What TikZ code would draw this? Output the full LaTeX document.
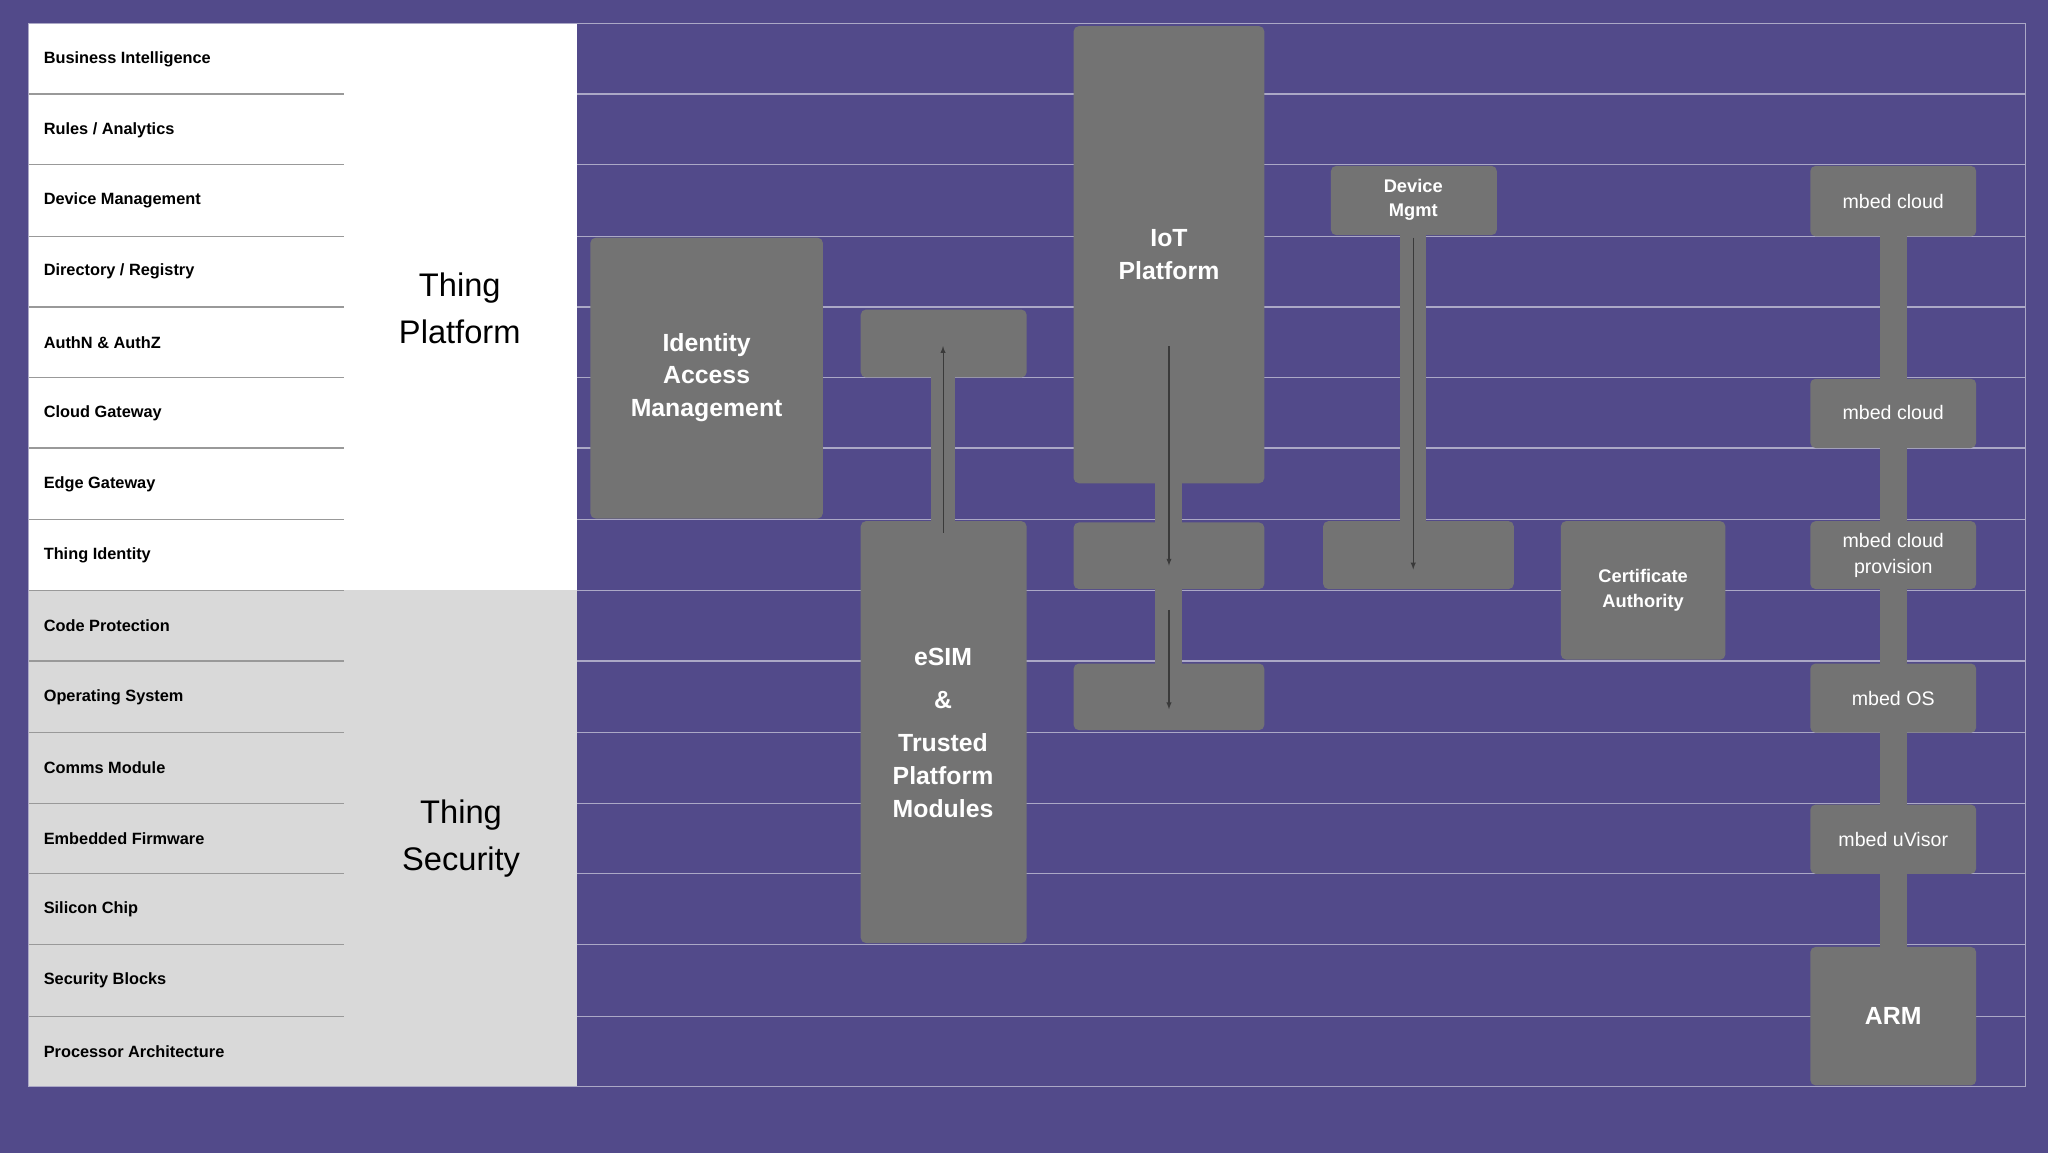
\documentclass[tikz,border=0pt]{standalone}
\usepackage{fontspec}
\setmainfont{Liberation Sans}
\begin{document}
\begin{tikzpicture}[x=1pt,y=-1pt,
  box/.style={fill=boxgray,rounded corners=4pt,draw=none},
  bar/.style={fill=boxgray,draw=none},
  lab/.style={anchor=west,font=\fontsize{12.5}{14}\selectfont\bfseries,text=black},
  bt/.style={text=white,align=center,font=\fontsize{19}{25}\selectfont\bfseries},
  st/.style={text=white,align=center,font=\fontsize{14}{19}\selectfont\bfseries},
  mt/.style={text=white,align=center,font=\fontsize{15}{20}\selectfont},
  arr/.style={draw=arrowgray,line width=0.8pt,-latex}]
\definecolor{bgp}{HTML}{524A8A}
\definecolor{boxgray}{HTML}{737373}
\definecolor{arrowgray}{HTML}{3A3A3A}
\definecolor{rowline}{HTML}{ABA8C6}
\definecolor{lgray}{HTML}{D9D9D9}
\fill[bgp] (0,0) rectangle (1568,883);
\useasboundingbox (0,0) rectangle (1568,883);
% left panels
\fill[white] (22,18) rectangle (442,452);
\fill[lgray] (22,452) rectangle (442,832);
% row lines
\foreach \y in {72,126,181,235,289,343,398,452,506,561,615,669,723,778}{
  \draw[rowline,line width=1pt] (442,\y) -- (1551,\y);
  \draw[gray!80,line width=1pt] (22,\y) -- (263,\y);}
\draw[rowline,line width=1pt] (22,18) rectangle (1551,832);
% labels
\foreach \t [count=\i] in {Business Intelligence,Rules / Analytics,Device Management,Directory / Registry,AuthN \& AuthZ,Cloud Gateway,Edge Gateway,Thing Identity,Code Protection,Operating System,Comms Module,Embedded Firmware,Silicon Chip,Security Blocks,Processor Architecture}
  \node[lab] (l\i) at (30,{18+54.27*(\i-0.5)}) {\t};
\node[align=center,font=\fontsize{25}{36}\selectfont] (tp) at (352,236) {Thing\\Platform};
\node[align=center,font=\fontsize{25}{36}\selectfont] (ts) at (353,642) {Thing\\Security};
% connector bars
\fill[bar] (713,285) rectangle (731,403);
\fill[bar] (884,365) rectangle (905,405);
\fill[bar] (884,446) rectangle (905,512);
\fill[bar] (1072,176) rectangle (1092,403);
\fill[bar] (1439,176) rectangle (1460,730);
% boxes
\fill[box] (452,182) rectangle (630,397); \node[bt] (iam) at (541,289) {Identity\\Access\\Management};
\fill[box] (659,237) rectangle (786,289); \coordinate (esimtop) at (722,265);
\fill[box] (659,399) rectangle (786,722); \node[bt] (esim) at (722,561) {eSIM\\[8pt]\&\\[8pt]Trusted\\Platform\\Modules};
\coordinate (esimbot) at (722,408);
\fill[box] (822,20) rectangle (968,370); \node[bt] (iot) at (895,195) {IoT\\Platform};
\coordinate (iota) at (895,265);
\fill[box] (822,400) rectangle (968,451); \coordinate (iotb) at (895,433);
\fill[box] (822,508) rectangle (968,559); \coordinate (iotc) at (895,467); \coordinate (iotd) at (895,543);
\fill[box] (1019,127) rectangle (1146,180); \node[st] (dm) at (1082,153) {Device\\Mgmt};
\coordinate (dma) at (1082,182);
\fill[box] (1013,399) rectangle (1159,451); \coordinate (dmb) at (1082,436);
\fill[box] (1195,399) rectangle (1321,505); \node[st] (ca) at (1258,452) {Certificate\\Authority};
\fill[box] (1386,127) rectangle (1513,181); \node[mt] (m1) at (1449.5,154) {mbed cloud};
\fill[box] (1386,290) rectangle (1513,343); \node[mt] (m2) at (1449.5,316) {mbed cloud};
\fill[box] (1386,399) rectangle (1513,451); \node[mt] (m3) at (1449.5,425) {mbed cloud\\provision};
\fill[box] (1386,508) rectangle (1513,561); \node[mt] (m4) at (1449.5,535) {mbed OS};
\fill[box] (1386,616) rectangle (1513,669); \node[mt] (m5) at (1449.5,643) {mbed uVisor};
\fill[box] (1386,725) rectangle (1513,831); \node[bt] (arm) at (1449.5,778) {ARM};
% arrows
\draw[arr] (esimbot) -- (esimtop);
\draw[arr] (iota) -- (iotb);
\draw[arr] (iotc) -- (iotd);
\draw[arr] (dma) -- (dmb);
\end{tikzpicture}
\end{document}
